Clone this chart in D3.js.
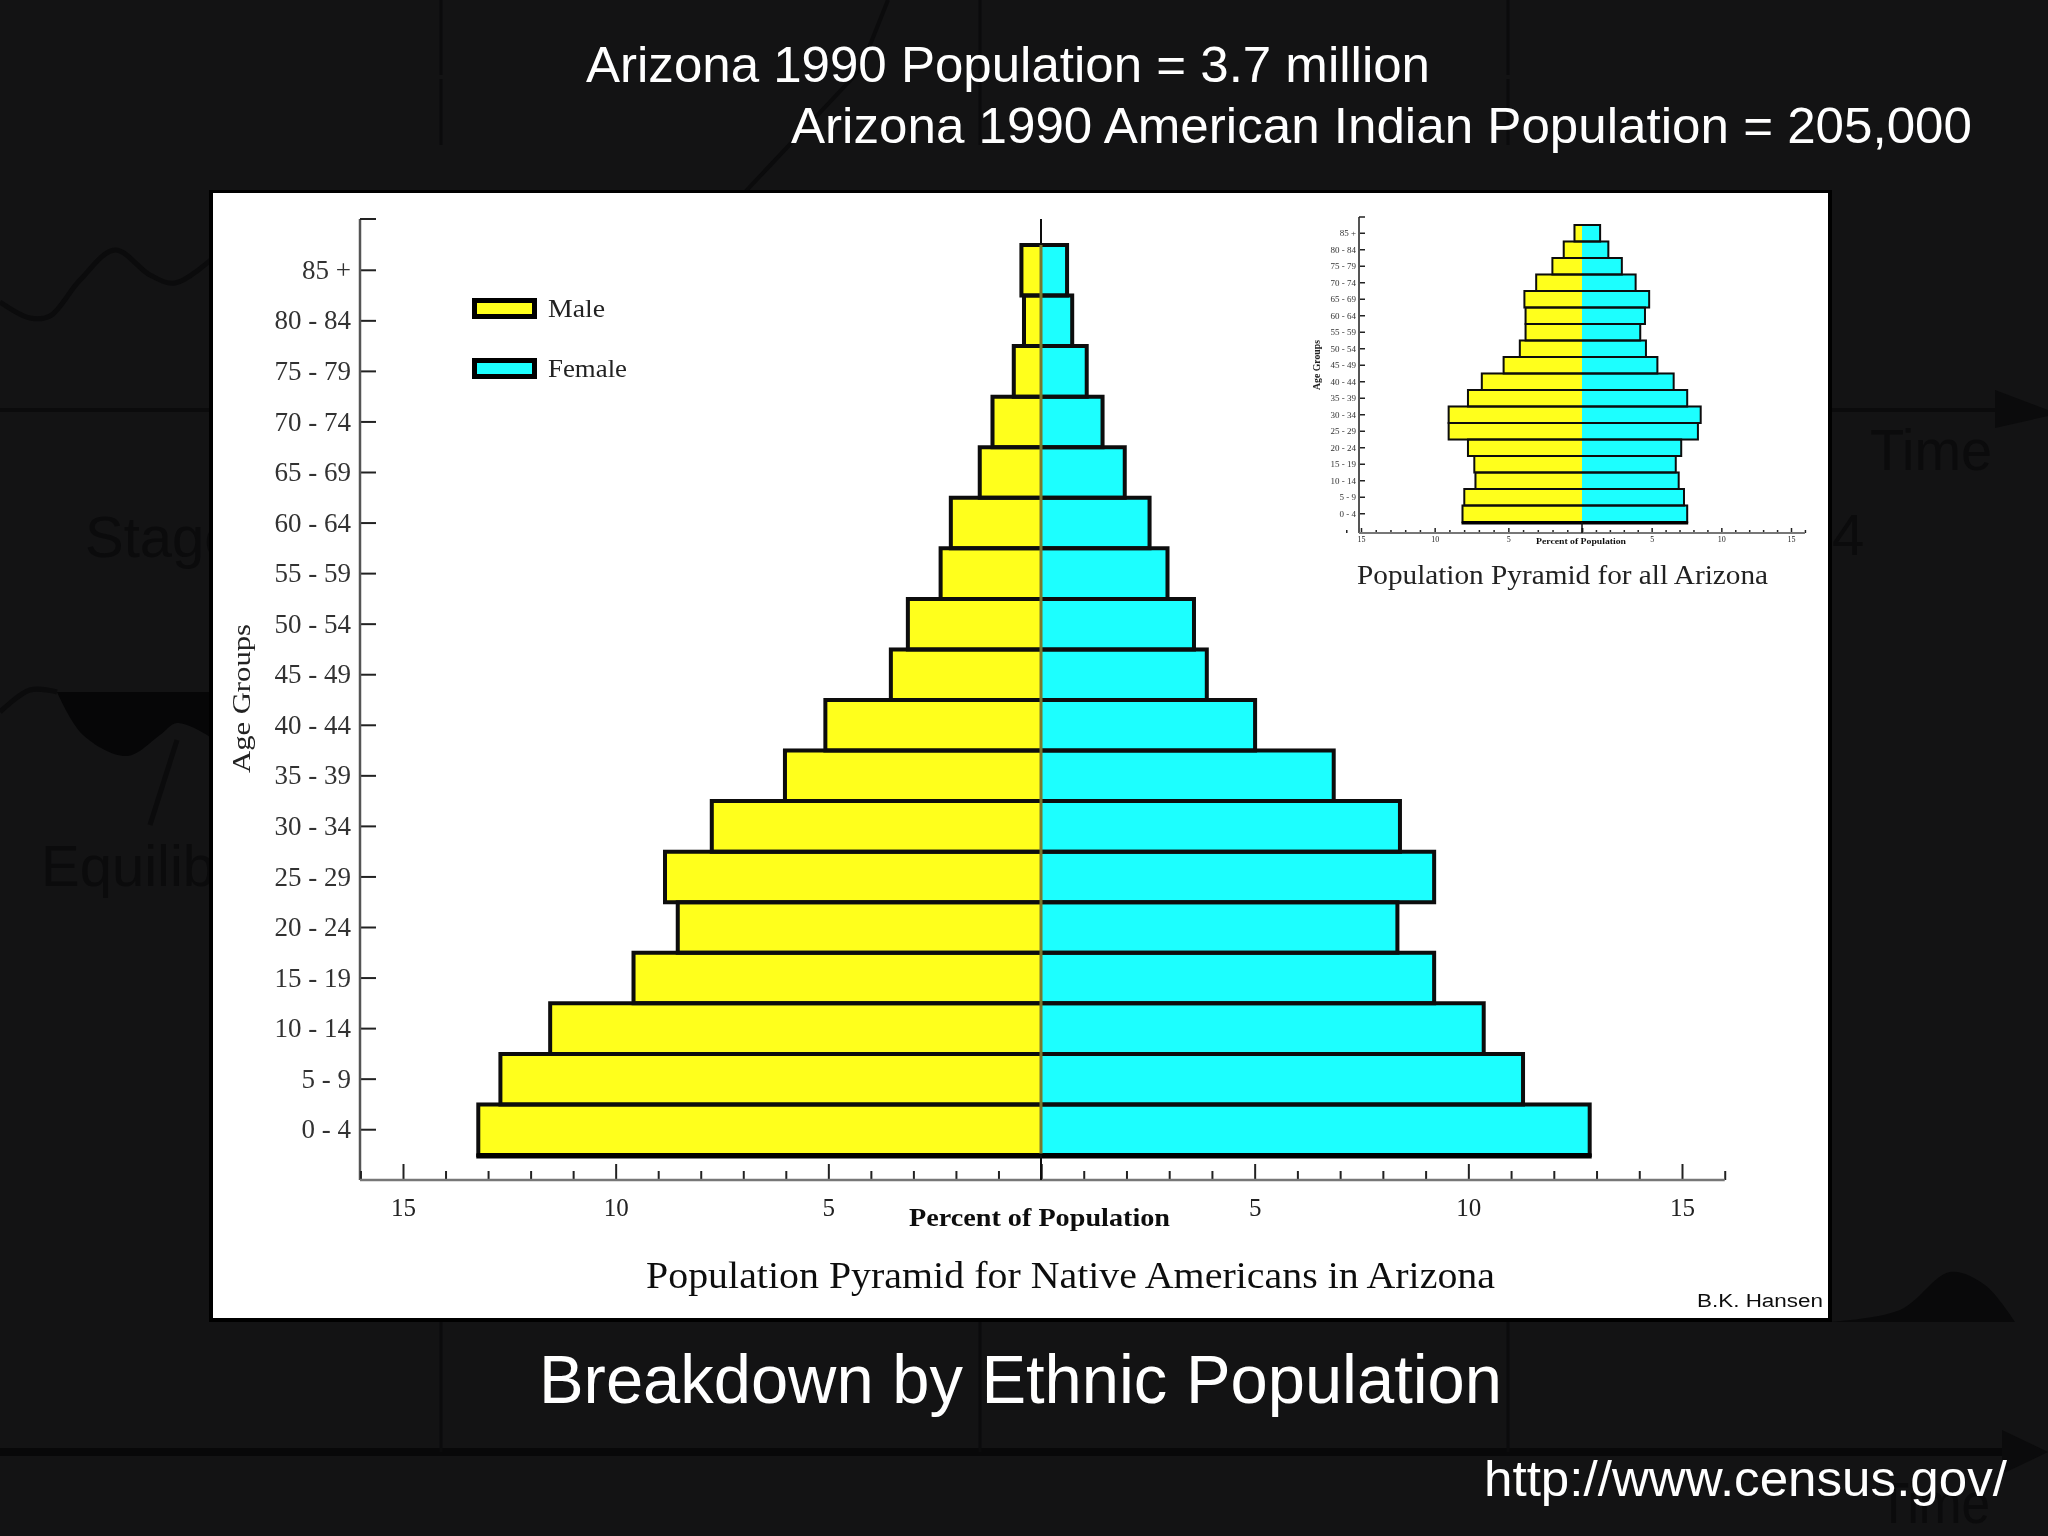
<!doctype html>
<html>
	<head>
		<meta charset="utf-8">
		<script src="https://d3js.org/d3.v7.min.js"></script>
		<style>
			body { margin: 0; background: #131314; }
			svg { display: block; }
		</style>
	</head>
	<body>
		<div id="chart"></div>
		<script>
            const ageGroups = ["85 +", "80 - 84", "75 - 79", "70 - 74", "65 - 69", "60 - 64", "55 - 59", "50 - 54", "45 - 49",
                "40 - 44", "35 - 39", "30 - 34", "25 - 29", "20 - 24", "15 - 19", "10 - 14", "5 - 9", "0 - 4"];

            // percent of population, Native Americans in Arizona
            const nativeMale = [0.46, 0.40, 0.64, 1.14, 1.44, 2.12, 2.36, 3.13, 3.53, 5.07, 6.02, 7.74, 8.84, 8.54, 9.58, 11.54, 12.71, 13.23];
            const nativeFemale = [0.61, 0.73, 1.07, 1.44, 1.96, 2.54, 2.96, 3.58, 3.88, 5.01, 6.85, 8.40, 9.20, 8.34, 9.20, 10.36, 11.28, 12.84];

            // percent of population, all Arizona
            const allMale = [0.51, 1.24, 2.01, 3.11, 3.91, 3.83, 3.83, 4.22, 5.32, 6.80, 7.74, 9.05, 9.05, 7.74, 7.31, 7.23, 7.99, 8.11];
            const allFemale = [1.30, 1.89, 2.86, 3.85, 4.82, 4.52, 4.18, 4.59, 5.41, 6.58, 7.55, 8.52, 8.32, 7.12, 6.73, 6.94, 7.32, 7.55];

            const xTickLabels = [5, 10, 15];
            const legendItems = ["Male", "Female"];

            const width = 2048, height = 1536;
            const yellow = "#ffff1c", cyan = "#1cffff", ghost = "#0b0b0c";
            const sans = "'Liberation Sans', Arial, sans-serif", serif = "'Liberation Serif', 'Times New Roman', serif";

            const svg = d3.select("#chart")
                .append("svg")
                .attr("width", width)
                .attr("height", height);

            // the chart in the reference is a soft, low resolution picture
            svg.append("defs").append("filter")
                .attr("id", "soft")
                .attr("filterUnits", "userSpaceOnUse")
                .attr("x", 0).attr("y", 0).attr("width", width).attr("height", height)
                .append("feGaussianBlur")
                .attr("stdDeviation", 0.6);

            svg.append("rect").attr("width", width).attr("height", height).attr("fill", "#131314");

            function label(parent, str, x, y, size, family, fill, fitWidth, anchor) {
                const t = parent.append("text")
                    .attr("x", x)
                    .attr("y", y)
                    .attr("font-size", size)
                    .attr("font-family", family)
                    .attr("fill", fill)
                    .attr("text-anchor", anchor || "start")
                    .text(str);
                if (fitWidth) {
                    t.attr("textLength", fitWidth).attr("lengthAdjust", "spacingAndGlyphs");
                }
                return t;
            }

            // faint previous slide showing through the background
            const ghosts = svg.append("g");
            const ghostLine = d3.line().curve(d3.curveCatmullRom);
            ghosts.append("path")
                .attr("d", ghostLine([[0, 302], [30, 318], [50, 316], [80, 280], [115, 250], [150, 275], [175, 283], [213, 258]]))
                .attr("fill", "none").attr("stroke", ghost).attr("stroke-width", 5);
            ghosts.append("path")
                .attr("d", ghostLine([[57, 692], [83, 735], [127, 756], [160, 735], [177, 723], [207, 735], [213, 740]]) + " L 213 692 Z")
                .attr("fill", "#060607");
            ghosts.append("path")
                .attr("d", ghostLine([[0, 712], [30, 690], [57, 692]]))
                .attr("fill", "none").attr("stroke", ghost).attr("stroke-width", 5);
            ghosts.append("path")
                .attr("d", ghostLine([[1828, 1322], [1900, 1310], [1950, 1272], [1985, 1285], [2015, 1322]]) + " Z")
                .attr("fill", "#09090a");
            ghosts.append("path")
                .attr("d", "M 888 0 L 860 70 L 745 192")
                .attr("fill", "none").attr("stroke", ghost).attr("stroke-width", 4);
            ghosts.append("line").attr("x1", 150).attr("y1", 825).attr("x2", 177).attr("y2", 740)
                .attr("stroke", ghost).attr("stroke-width", 5);
            ghosts.append("line").attr("x1", 0).attr("y1", 410).attr("x2", 1996).attr("y2", 410)
                .attr("stroke", ghost).attr("stroke-width", 4);
            ghosts.append("path").attr("d", "M 1995 390 L 2048 410 L 2048 416 L 1995 428 Z").attr("fill", ghost);
            ghosts.append("line").attr("x1", 0).attr("y1", 1452).attr("x2", 2005).attr("y2", 1452)
                .attr("stroke", "#080809").attr("stroke-width", 8);
            ghosts.append("path").attr("d", "M 2002 1430 L 2048 1452 L 2002 1474 Z").attr("fill", ghost);
            [441, 980, 1508].forEach(function (gx) {
                ghosts.append("line").attr("x1", gx).attr("y1", 0).attr("x2", gx).attr("y2", 145)
                    .attr("stroke", ghost).attr("stroke-width", 3).attr("stroke-dasharray", "75 4");
                ghosts.append("line").attr("x1", gx).attr("y1", 1322).attr("x2", gx).attr("y2", 1452)
                    .attr("stroke", ghost).attr("stroke-width", 3);
            });
            label(ghosts, "Stage", 85, 557, 58, sans, ghost);
            label(ghosts, "Equilib", 41, 886, 58, sans, ghost);
            label(ghosts, "Time", 1870, 470, 58, sans, ghost, 122);
            label(ghosts, "Time", 1878, 1523, 58, sans, ghost, 112);
            label(ghosts, "4", 1832, 555, 58, sans, ghost);

            // white picture panel
            svg.append("rect").attr("x", 209).attr("y", 190).attr("width", 1623).attr("height", 1132).attr("fill", "#000");
            svg.append("rect").attr("x", 213).attr("y", 193).attr("width", 1615).attr("height", 1125).attr("fill", "#fff");
            const panel = svg.append("g").attr("filter", "url(#soft)");

            function pyramid(cfg) {
                const g = panel.append("g");
                const xL = d3.scaleLinear().domain([15, 0]).range([cfg.left15, cfg.zero]);
                const xR = d3.scaleLinear().domain([0, 15]).range([cfg.zero, cfg.right15]);
                const y = d3.scaleBand().domain(ageGroups).range([cfg.barTop, cfg.barBottom]);

                // bars
                g.selectAll("rect.male")
                    .data(ageGroups)
                    .enter().append("rect")
                    .attr("class", "male")
                    .attr("x", function (d, i) { return xL(cfg.male[i]); })
                    .attr("y", function (d) { return y(d); })
                    .attr("width", function (d, i) { return cfg.zero - xL(cfg.male[i]); })
                    .attr("height", y.bandwidth())
                    .attr("fill", yellow);

                g.selectAll("rect.female")
                    .data(ageGroups)
                    .enter().append("rect")
                    .attr("class", "female")
                    .attr("x", cfg.zero)
                    .attr("y", function (d) { return y(d); })
                    .attr("width", function (d, i) { return xR(cfg.female[i]) - cfg.zero; })
                    .attr("height", y.bandwidth())
                    .attr("fill", cyan);

                // outlines stop at the middle, the centre line is much thinner
                function outline(scale, values) {
                    return function (d, i) {
                        const top = y(d), bottom = y(d) + y.bandwidth();
                        return "M" + cfg.zero + "," + top + "H" + scale(values[i]) + "V" + bottom + "H" + cfg.zero;
                    };
                }
                [[xL, cfg.male], [xR, cfg.female]].forEach(function (side) {
                    g.selectAll(null)
                        .data(ageGroups)
                        .enter().append("path")
                        .attr("d", outline(side[0], side[1]))
                        .attr("fill", "none")
                        .attr("stroke", "#0c0c0c")
                        .attr("stroke-width", cfg.barStroke);
                });
                g.append("line")
                    .attr("x1", cfg.zero).attr("x2", cfg.zero)
                    .attr("y1", cfg.barTop).attr("y2", cfg.barBottom)
                    .attr("stroke", "#78782e").attr("stroke-width", cfg.centerStroke);

                // thick closing line under the lowest bar
                g.append("line")
                    .attr("x1", xL(cfg.male[cfg.male.length - 1]) - cfg.barStroke / 2)
                    .attr("x2", xR(cfg.female[cfg.female.length - 1]) + cfg.barStroke / 2)
                    .attr("y1", cfg.barBottom + 1).attr("y2", cfg.barBottom + 1)
                    .attr("stroke", "#000").attr("stroke-width", cfg.barStroke + 1);

                // y axis, ticks point into the plot and labels stay on the left
                const yAxis = g.append("g")
                    .attr("transform", "translate(" + cfg.axisX + ",0)")
                    .call(d3.axisLeft(y).tickSize(-cfg.yTick).tickPadding(cfg.yPad));
                yAxis.select(".domain").remove();
                yAxis.selectAll("line").attr("stroke", "#222").attr("stroke-width", cfg.axisStroke);
                yAxis.selectAll("text")
                    .attr("font-family", serif)
                    .attr("font-size", cfg.ageSize)
                    .attr("fill", "#333");
                g.append("line")
                    .attr("x1", cfg.axisX).attr("x2", cfg.axisX)
                    .attr("y1", cfg.axisTop).attr("y2", cfg.axisY)
                    .attr("stroke", "#555").attr("stroke-width", cfg.axisStroke + 0.5);
                g.append("line")
                    .attr("x1", cfg.axisX).attr("x2", cfg.axisX + cfg.yTick)
                    .attr("y1", cfg.axisTop).attr("y2", cfg.axisTop)
                    .attr("stroke", "#222").attr("stroke-width", cfg.axisStroke);

                // x axes, one per side, minor tick on every percent
                [xL, xR].forEach(function (scale) {
                    const xAxis = g.append("g")
                        .attr("transform", "translate(0," + cfg.axisY + ")")
                        .call(d3.axisBottom(scale)
                            .tickValues(d3.range(0, 17))
                            .tickSize(0)
                            .tickPadding(cfg.xPad)
                            .tickFormat(function (d) { return xTickLabels.indexOf(d) >= 0 ? d : ""; }));
                    xAxis.select(".domain").remove();
                    xAxis.selectAll("line")
                        .attr("y2", function (d) { return d % 5 === 0 ? -cfg.majorTick : -cfg.minorTick; })
                        .attr("stroke", "#222")
                        .attr("stroke-width", cfg.axisStroke);
                    xAxis.selectAll("text")
                        .attr("font-family", serif)
                        .attr("font-size", cfg.xSize)
                        .attr("fill", "#222");
                });
                g.append("line")
                    .attr("x1", cfg.axisX).attr("x2", xR(16))
                    .attr("y1", cfg.axisY).attr("y2", cfg.axisY)
                    .attr("stroke", "#777").attr("stroke-width", cfg.axisStroke + 0.5);
                g.append("line")
                    .attr("x1", cfg.zero).attr("x2", cfg.zero)
                    .attr("y1", cfg.barBottom).attr("y2", cfg.axisY)
                    .attr("stroke", "#111").attr("stroke-width", cfg.axisStroke);
                g.append("line")
                    .attr("x1", cfg.zero).attr("x2", cfg.zero)
                    .attr("y1", cfg.axisTop).attr("y2", cfg.barTop)
                    .attr("stroke", "#111").attr("stroke-width", cfg.centerStroke ? cfg.axisStroke : 0);
            }

            pyramid({
                male: nativeMale, female: nativeFemale,
                left15: 403, zero: 1041, right15: 1682,
                barTop: 245, barBottom: 1155, axisX: 360, axisTop: 219, axisY: 1180,
                barStroke: 4, centerStroke: 3, axisStroke: 2, yTick: 16, yPad: 9, ageSize: 27,
                majorTick: 16, minorTick: 9, xPad: 18, xSize: 25
            });

            pyramid({
                male: allMale, female: allFemale,
                left15: 1361, zero: 1582, right15: 1791,
                barTop: 225, barBottom: 522, axisX: 1359, axisTop: 217, axisY: 533,
                barStroke: 2, centerStroke: 0, axisStroke: 1.5, yTick: 6, yPad: 3, ageSize: 9,
                majorTick: 5, minorTick: 3, xPad: 3, xSize: 8
            });

            // legend
            legendItems.forEach(function (name, i) {
                const ly = i === 0 ? 300.5 : 360.5;
                panel.append("rect")
                    .attr("x", 474.5).attr("y", ly)
                    .attr("width", 60).attr("height", 16)
                    .attr("fill", i === 0 ? yellow : cyan)
                    .attr("stroke", "#000").attr("stroke-width", 5);
                label(panel, name, 548, ly + 16, 26, serif, "#222", i === 0 ? 57 : 79);
            });

            // plot captions
            label(panel, "Percent of Population", 909, 1226, 25, serif, "#111", 261).attr("font-weight", "bold");
            label(panel, "Population Pyramid for Native Americans in Arizona", 646, 1288, 38, serif, "#111", 849);
            label(panel, "B.K. Hansen", 1697, 1307, 18, sans, "#111", 126);
            label(panel, "Population Pyramid for all Arizona", 1357, 584, 28, serif, "#222", 411);
            label(panel, "Percent of Population", 1536, 544, 9, serif, "#111", 90).attr("font-weight", "bold");
            label(panel, "Age Groups", 0, 0, 25, serif, "#222", 149)
                .attr("transform", "translate(250,773) rotate(-90)");
            label(panel, "Age Groups", 0, 0, 10, serif, "#222", 50)
                .attr("transform", "translate(1320,390) rotate(-90)").attr("font-weight", "bold");

            // slide text
            label(svg, "Arizona 1990 Population = 3.7 million", 586, 82, 50, sans, "#fff", 844);
            label(svg, "Arizona 1990 American Indian Population = 205,000", 791, 143, 50, sans, "#fff", 1181);
            label(svg, "Breakdown by Ethnic Population", 539, 1403, 68, sans, "#fff", 963);
            label(svg, "http://www.census.gov/", 1484, 1496, 50, sans, "#fff", 523);
		</script>
	</body>
</html>
